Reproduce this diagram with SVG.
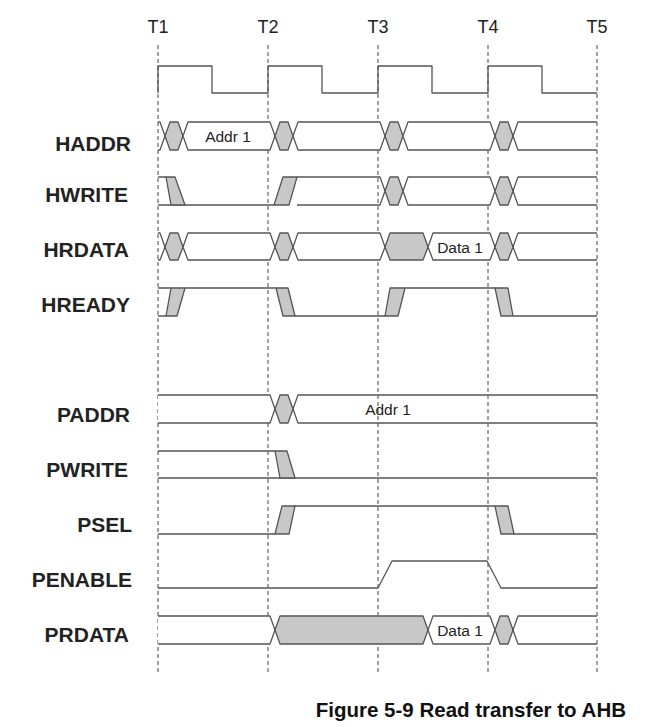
<svg xmlns="http://www.w3.org/2000/svg" width="659" height="727" viewBox="0 0 659 727">
<style>
.w{fill:none;stroke:#555;stroke-width:1.3;stroke-linejoin:round}
.v{fill:#fff;stroke:#555;stroke-width:1.3;stroke-linejoin:round}
.g{fill:#c8c8c8;stroke:#555;stroke-width:1.3;stroke-linejoin:round}
.d{stroke:#444;stroke-width:1;stroke-dasharray:4,3}
.t{font-family:"Liberation Sans",Arial,sans-serif;font-size:18px;fill:#222}
.l{font-family:"Liberation Sans",Arial,sans-serif;font-size:21px;font-weight:bold;fill:#222;text-anchor:end}
.s{font-family:"Liberation Sans",Arial,sans-serif;font-size:15.5px;fill:#222;text-anchor:middle}
</style>
<rect width="659" height="727" fill="#fff"/>
<g id="ticks">
<text class="t" x="158" y="33" text-anchor="middle">T1</text>
<text class="t" x="268" y="33" text-anchor="middle">T2</text>
<text class="t" x="378" y="33" text-anchor="middle">T3</text>
<text class="t" x="488" y="33" text-anchor="middle">T4</text>
<text class="t" x="597" y="33" text-anchor="middle">T5</text>
<line class="d" x1="158" y1="45" x2="158" y2="672"/>
<line class="d" x1="268" y1="45" x2="268" y2="672"/>
<line class="d" x1="378" y1="45" x2="378" y2="672"/>
<line class="d" x1="488" y1="45" x2="488" y2="672"/>
<line class="d" x1="597" y1="45" x2="597" y2="672"/>
</g>
<g id="labels">
<text class="l" x="131" y="151">HADDR</text>
<text class="l" x="128" y="202">HWRITE</text>
<text class="l" x="129" y="257">HRDATA</text>
<text class="l" x="130" y="312">HREADY</text>
<text class="l" x="130" y="422">PADDR</text>
<text class="l" x="128" y="477">PWRITE</text>
<text class="l" x="132" y="532">PSEL</text>
<text class="l" x="132" y="587">PENABLE</text>
<text class="l" x="129" y="642">PRDATA</text>
</g>
<g id="clock">
<path class="w" d="M158,93 V66 H212 V93 H268 V66 H322 V93 H378 V66 H432 V93 H488 V66 H542 V93 H597"/>
</g>
<g id="haddr">
<path class="w" d="M158,122 H160 L165,136 L160,150 H158"/>
<path class="g" d="M165,136 L170,122 H178 L183,136 L178,150 H170 Z"/>
<path class="v" d="M183,136 L188,122 H270 L275,136 L270,150 H188 Z"/>
<path class="g" d="M275,136 L280,122 H288 L293,136 L288,150 H280 Z"/>
<path class="v" d="M293,136 L298,122 H380 L385,136 L380,150 H298 Z"/>
<path class="g" d="M385,136 L390,122 H398 L403,136 L398,150 H390 Z"/>
<path class="v" d="M403,136 L408,122 H490 L495,136 L490,150 H408 Z"/>
<path class="g" d="M495,136 L500,122 H508 L513,136 L508,150 H500 Z"/>
<path class="w" d="M597,122 H518 L513,136 L518,150 H597"/>
<text class="s" x="228" y="142">Addr 1</text>
</g>
<g id="hwrite">
<path class="w" d="M158,205 H274 M297,177 H380 L385,191 L380,205 H297 M158,177 H166"/>
<path class="g" d="M166,177 H175 L185,205 H171 Z"/>
<path class="g" d="M274,205 H289 L297,177 H283 Z"/>
<path class="g" d="M385,191 L390,177 H398 L403,191 L398,205 H390 Z"/>
<path class="v" d="M403,191 L408,177 H490 L495,191 L490,205 H408 Z"/>
<path class="g" d="M495,191 L500,177 H508 L513,191 L508,205 H500 Z"/>
<path class="w" d="M597,177 H518 L513,191 L518,205 H597"/>
</g>
<g id="hrdata">
<path class="w" d="M158,233 H160 L165,247 L160,260 H158"/>
<path class="g" d="M165,247 L170,233 H178 L183,247 L178,260 H170 Z"/>
<path class="v" d="M183,247 L188,233 H270 L275,247 L270,260 H188 Z"/>
<path class="g" d="M275,247 L280,233 H288 L293,247 L288,260 H280 Z"/>
<path class="v" d="M293,247 L298,233 H380 L385,247 L380,260 H298 Z"/>
<path class="g" d="M385,247 L390,233 H423 L428,247 L423,260 H390 Z"/>
<path class="v" d="M428,247 L433,233 H490 L495,247 L490,260 H433 Z"/>
<path class="g" d="M495,247 L500,233 H508 L513,247 L508,260 H500 Z"/>
<path class="w" d="M597,233 H518 L513,247 L518,260 H597"/>
<text class="s" x="460" y="253">Data 1</text>
</g>
<g id="hready">
<path class="w" d="M158,316 H166 M158,288 H171 M185,288 H276 M295,316 H385 M405,288 H495 M513,316 H597"/>
<path class="g" d="M166,316 H177 L185,288 H171 Z"/>
<path class="g" d="M276,288 H288 L295,316 H283 Z"/>
<path class="g" d="M385,316 H398 L405,288 H390 Z"/>
<path class="g" d="M495,288 H508 L513,316 H501 Z"/>
</g>
<g id="paddr">
<path class="v" d="M158,395 H270 L275,409 L270,423 H158"/>
<path class="g" d="M275,409 L280,395 H288 L293,409 L288,423 H280 Z"/>
<path class="w" d="M597,395 H298 L293,409 L298,423 H597"/>
<text class="s" x="388" y="415">Addr 1</text>
</g>
<g id="pwrite">
<path class="w" d="M158,478 H597 M158,451 H275"/>
<path class="g" d="M275,451 H287 L295,478 H280 Z"/>
</g>
<g id="psel">
<path class="w" d="M158,534 H275 M295,506 H495 M514,534 H597"/>
<path class="g" d="M275,534 H289 L295,506 H282 Z"/>
<path class="g" d="M495,506 H508 L514,534 H501 Z"/>
</g>
<g id="penable">
<path class="w" d="M158,588 H378 L392,561 H487 L501,588 H597"/>
</g>
<g id="prdata">
<path class="v" d="M158,616 H270 L275,630 L270,644 H158"/>
<path class="g" d="M275,630 L280,616 H423 L428,630 L423,644 H280 Z"/>
<path class="v" d="M428,630 L433,616 H490 L495,630 L490,644 H433 Z"/>
<path class="g" d="M495,630 L500,616 H508 L513,630 L508,644 H500 Z"/>
<path class="w" d="M597,616 H518 L513,630 L518,644 H597"/>
<text class="s" x="460" y="636">Data 1</text>
</g>
<text x="626" y="717" text-anchor="end" style="font-family:'Liberation Sans',Arial,sans-serif;font-size:20.5px;font-weight:bold;fill:#111">Figure 5-9 Read transfer to AHB</text>
</svg>
